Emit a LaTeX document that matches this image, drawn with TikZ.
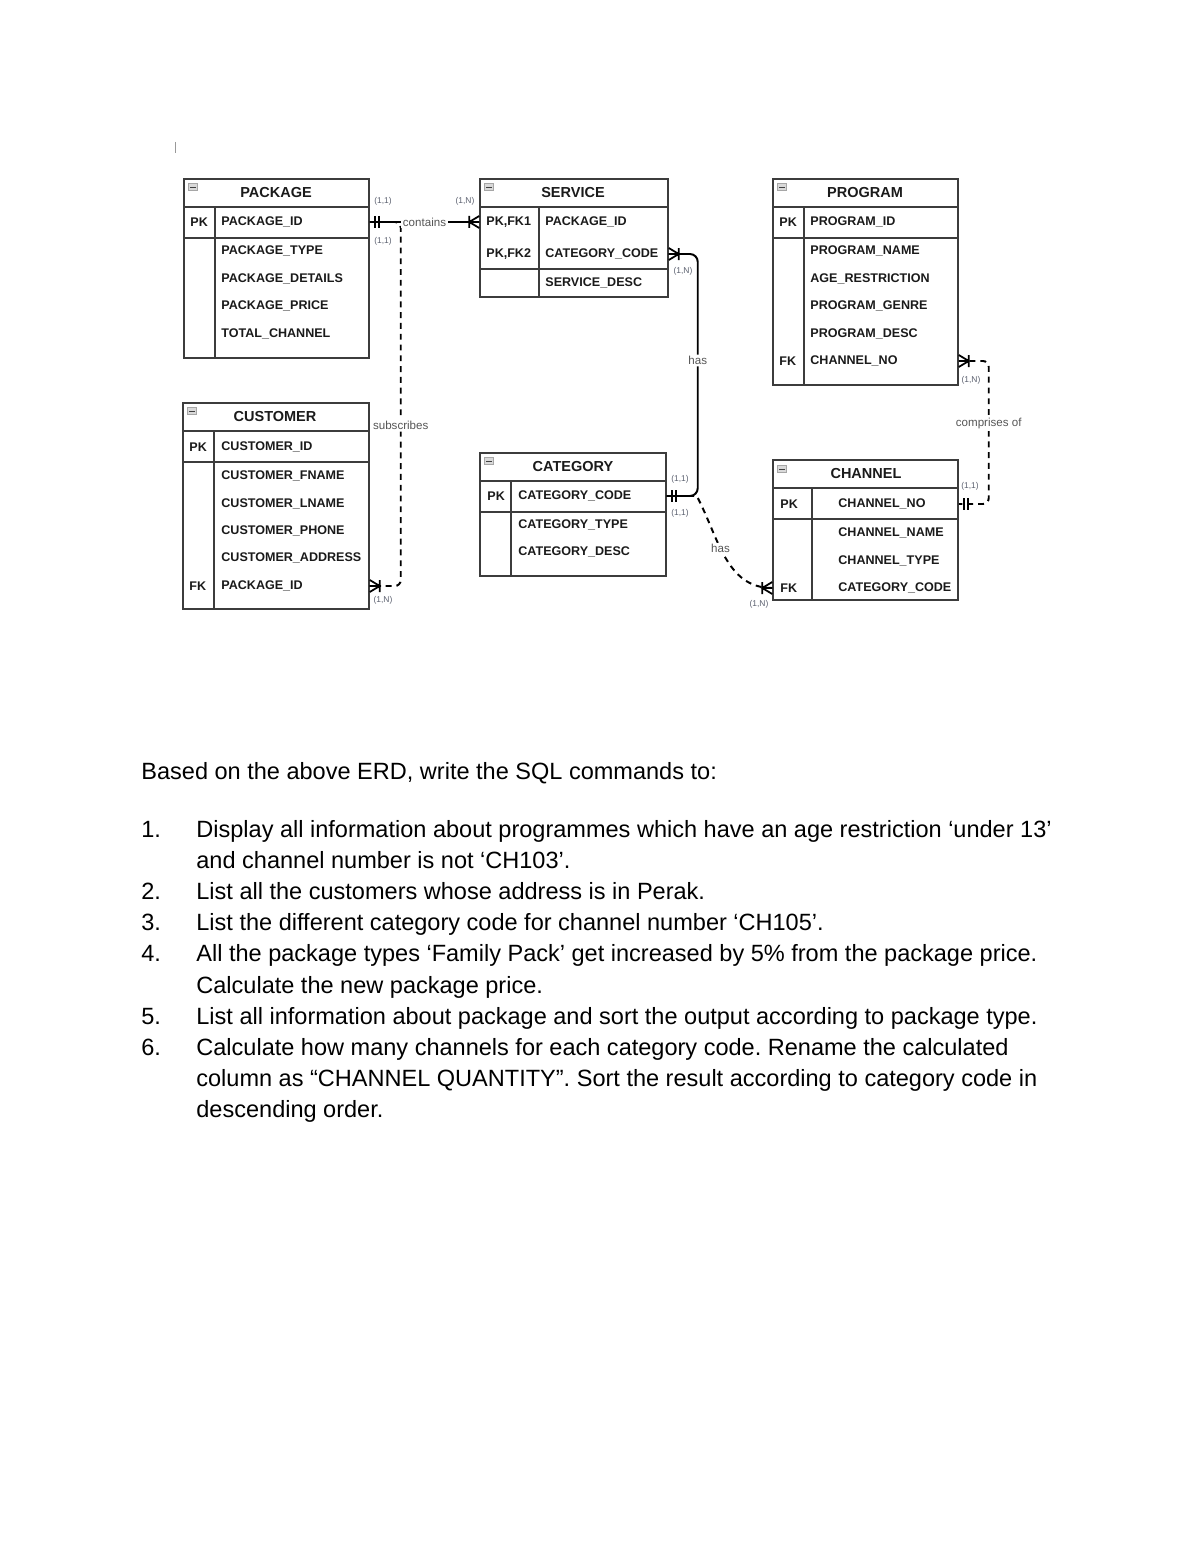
\documentclass[tikz,border=0pt]{standalone}
\usepackage{fontspec}
\setmainfont{Liberation Sans}
\usepackage{tikz}
\usetikzlibrary{positioning,calc,fit}
\definecolor{ink}{HTML}{1A1A1A}
\definecolor{frame}{HTML}{3C3C3C}
\definecolor{tagGray}{HTML}{5A5F6E}
\definecolor{relGray}{HTML}{555555}
\frenchspacing

\tikzset{
  ent/.style={draw=frame,line width=0.75pt,inner sep=0pt},
  rule/.style={draw=frame,line width=0.75pt},
  ttl/.style={font=\bfseries\fontsize{7.4}{8}\selectfont,text=ink,inner sep=0pt},
  fld/.style={font=\bfseries\fontsize{6.4}{7}\selectfont,text=ink,anchor=west,inner sep=0pt},
  card/.style={font=\fontsize{4.3}{5}\selectfont,text=tagGray,inner sep=0pt},
  rellab/.style={font=\fontsize{5.9}{6}\selectfont,text=relGray,fill=white,inner sep=0.8pt},
  erline/.style={line width=1pt,black},
  erdash/.style={line width=1pt,black,dash pattern=on 3pt off 2.5pt},
  mini/.style={draw=gray!70,fill=gray!30,minimum width=4.4pt,minimum height=3.8pt,inner sep=0pt,
    path picture={\draw[gray!50!black,line width=0.35pt] ([xshift=0.9pt]path picture bounding box.west) -- ([xshift=-0.9pt]path picture bounding box.east);}},
  qtxt/.style={font=\fontsize{12}{14}\selectfont,anchor=base west,inner sep=0pt},
  onemany/.pic={\draw[line width=0.9pt] (0,-6) -- (10,0) -- (0,6) (0,0) -- (10,0) (10,-6) -- (10,6);},
  oneone/.pic={\draw[line width=0.9pt] (5,-6) -- (5,6) (9,-6) -- (9,6);}
}

\begin{document}
\begin{tikzpicture}[x=0.51pt,y=-0.51pt]
\useasboundingbox (0,0) rectangle (1200,1553);
% stray cursor mark
\draw[gray!80,line width=0.5pt] (175,142) -- (175,153);

% PACKAGE
\node[ent,fit={(184,179) (369,358)}] (pkg) {};
\draw[rule] (184,207) -- (369,207) (184,238) -- (369,238) (215,207) -- (215,358);
\node[mini] (pkg-m) at (193,187) {};
\node[ttl] (pkg-t) at (276,193) {PACKAGE};
\node[fld] (pkg-k) at (190,222) {PK};
\node[fld] (pkg-id) at (221,222) {PACKAGE\_ID};
\node[fld] (pkg-type) at (221,251) {PACKAGE\_TYPE};
\node[fld] (pkg-det) at (221,279) {PACKAGE\_DETAILS};
\node[fld] (pkg-price) at (221,306) {PACKAGE\_PRICE};
\node[fld] (pkg-tot) at (221,334) {TOTAL\_CHANNEL};

% SERVICE
\node[ent,fit={(480,179) (668,297)}] (svc) {};
\draw[rule] (480,207) -- (668,207) (480,269) -- (668,269) (539,207) -- (539,297);
\node[mini] (svc-m) at (489,187) {};
\node[ttl] (svc-t) at (573,193) {SERVICE};
\node[fld] (svc-k1) at (486,222) {PK,FK1};
\node[fld] (svc-id) at (545,222) {PACKAGE\_ID};
\node[fld] (svc-k2) at (486,254) {PK,FK2};
\node[fld] (svc-cat) at (545,254) {CATEGORY\_CODE};
\node[fld] (svc-desc) at (545,283) {SERVICE\_DESC};

% PROGRAM
\node[ent,fit={(773,179) (958,385)}] (prg) {};
\draw[rule] (773,207) -- (958,207) (773,238) -- (958,238) (804,207) -- (804,385);
\node[mini] (prg-m) at (782,187) {};
\node[ttl] (prg-t) at (865,193) {PROGRAM};
\node[fld] (prg-k) at (779,222) {PK};
\node[fld] (prg-id) at (810,222) {PROGRAM\_ID};
\node[fld] (prg-name) at (810,251) {PROGRAM\_NAME};
\node[fld] (prg-age) at (810,279) {AGE\_RESTRICTION};
\node[fld] (prg-genre) at (810,306) {PROGRAM\_GENRE};
\node[fld] (prg-desc) at (810,334) {PROGRAM\_DESC};
\node[fld] (prg-k2) at (779,361) {FK};
\node[fld] (prg-fk) at (810,361) {CHANNEL\_NO};

% CUSTOMER
\node[ent,fit={(183,403) (369,609)}] (cus) {};
\draw[rule] (183,431) -- (369,431) (183,462) -- (369,462) (214,431) -- (214,609);
\node[mini] (cus-m) at (192,411) {};
\node[ttl] (cus-t) at (275,417) {CUSTOMER};
\node[fld] (cus-k) at (189,447) {PK};
\node[fld] (cus-id) at (221,447) {CUSTOMER\_ID};
\node[fld] (cus-fn) at (221,476) {CUSTOMER\_FNAME};
\node[fld] (cus-ln) at (221,504) {CUSTOMER\_LNAME};
\node[fld] (cus-ph) at (221,531) {CUSTOMER\_PHONE};
\node[fld] (cus-ad) at (221,558) {CUSTOMER\_ADDRESS};
\node[fld] (cus-k2) at (189,586) {FK};
\node[fld] (cus-fk) at (221,586) {PACKAGE\_ID};

% CATEGORY
\node[ent,fit={(480,453) (666,576)}] (cat) {};
\draw[rule] (480,481) -- (666,481) (480,512) -- (666,512) (511,481) -- (511,576);
\node[mini] (cat-m) at (489,461) {};
\node[ttl] (cat-t) at (573,467) {CATEGORY};
\node[fld] (cat-k) at (487,496) {PK};
\node[fld] (cat-pk) at (518,496) {CATEGORY\_CODE};
\node[fld] (cat-type) at (518,525) {CATEGORY\_TYPE};
\node[fld] (cat-desc) at (518,552) {CATEGORY\_DESC};

% CHANNEL
\node[ent,fit={(773,460) (958,600)}] (chn) {};
\draw[rule] (773,488) -- (958,488) (773,519) -- (958,519) (812,488) -- (812,600);
\node[mini] (chn-m) at (782,469) {};
\node[ttl] (chn-t) at (866,474) {CHANNEL};
\node[fld] (chn-k) at (780,504) {PK};
\node[fld] (chn-pk) at (838,504) {CHANNEL\_NO};
\node[fld] (chn-name) at (838,533) {CHANNEL\_NAME};
\node[fld] (chn-type) at (838,561) {CHANNEL\_TYPE};
\node[fld] (chn-k2) at (780,588) {FK};
\node[fld] (chn-fk) at (838,588) {CATEGORY\_CODE};

% relationships
\draw[erdash,rounded corners=3pt] (pkg.east |- pkg-id) -- ++(31,0) |- node[rellab,pos=0.28] (r-sub) {subscribes} (cus.east |- cus-fk);
\draw[erdash,rounded corners=3pt] (prg.east |- prg-fk) -- ++(30,0) |- node[rellab,pos=0.22] (r-comp) {comprises of} (chn.east |- chn-pk);
\draw[erdash] (cat.east |- cat-pk) -- ++(30,0) to[out=-62,in=180] node[rellab,pos=0.42] (r-has2) {has} (chn.west |- chn-fk);
\draw[erline] (pkg.east |- pkg-id) -- node[rellab] (r-cont) {contains} (svc.west |- svc-id);
\draw[erline,rounded corners=4pt] (svc.east |- svc-cat) -- ++(29,0) |- node[rellab,pos=0.22] (r-has1) {has} (cat.east |- cat-pk);

% end marks
\pic at (pkg.east |- pkg-id) {oneone};
\pic[rotate=180] at (svc.west |- svc-id) {onemany};
\pic at (svc.east |- svc-cat) {onemany};
\pic at (cat.east |- cat-pk) {oneone};
\pic[rotate=180] at (chn.west |- chn-fk) {onemany};
\pic at (cus.east |- cus-fk) {onemany};
\pic at (prg.east |- prg-fk) {onemany};
\pic at (chn.east |- chn-pk) {oneone};

% cardinalities
\node[card] (c1) at (383,201) {(1,1)};
\node[card] (c2) at (465,201) {(1,N)};
\node[card] (c3) at (383,241) {(1,1)};
\node[card] (c4) at (383,600) {(1,N)};
\node[card] (c5) at (683,271) {(1,N)};
\node[card] (c6) at (680,479) {(1,1)};
\node[card] (c7) at (680,513) {(1,1)};
\node[card] (c8) at (759,604) {(1,N)};
\node[card] (c9) at (971,380) {(1,N)};
\node[card] (c10) at (970,486) {(1,1)};

% questions
\node[qtxt] (intro) at (141,779) {Based on the above ERD, write the SQL commands to:};
\node[qtxt] (n1) at (141,837) {1.};
\node[qtxt] (q1a) at (196,837) {Display all information about programmes which have an age restriction ‘under 13’};
\node[qtxt] (q1b) at (196,868) {and channel number is not ‘CH103’.};
\node[qtxt] (n2) at (141,899) {2.};
\node[qtxt] (q2) at (196,899) {List all the customers whose address is in Perak.};
\node[qtxt] (n3) at (141,930) {3.};
\node[qtxt] (q3) at (196,930) {List the different category code for channel number ‘CH105’.};
\node[qtxt] (n4) at (141,961) {4.};
\node[qtxt] (q4a) at (196,961) {All the package types ‘Family Pack’ get increased by 5\% from the package price.};
\node[qtxt] (q4b) at (196,993) {Calculate the new package price.};
\node[qtxt] (n5) at (141,1024) {5.};
\node[qtxt] (q5) at (196,1024) {List all information about package and sort the output according to package type.};
\node[qtxt] (n6) at (141,1055) {6.};
\node[qtxt] (q6a) at (196,1055) {Calculate how many channels for each category code. Rename the calculated};
\node[qtxt] (q6b) at (196,1086) {column as “CHANNEL QUANTITY”. Sort the result according to category code in};
\node[qtxt] (q6c) at (196,1117) {descending order.};
\end{tikzpicture}
\end{document}
